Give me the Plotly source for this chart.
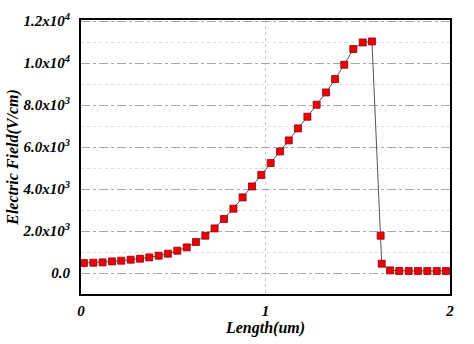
import plotly.graph_objects as go

length_um = [0.016, 0.067, 0.117, 0.168, 0.218, 0.269, 0.320, 0.370, 0.421, 0.471,
             0.522, 0.573, 0.623, 0.674, 0.724, 0.775, 0.826, 0.876, 0.927, 0.977,
             1.028, 1.079, 1.126, 1.176, 1.227, 1.277, 1.328, 1.377, 1.427, 1.476,
             1.527, 1.577, 1.624, 1.630, 1.675, 1.725, 1.776, 1.827, 1.877, 1.928, 1.978]
field = [476, 490, 505, 552, 586, 633, 681, 743, 824, 919,
         1062, 1219, 1476, 1776, 2124, 2571, 3062, 3600, 4124, 4667,
         5238, 5790, 6314, 6886, 7443, 8014, 8600, 9238, 9919, 10667,
         10981, 11029, 1776, 443, 124, 95, 95, 95, 95, 95, 95]

y_tickvals = [0, 2000, 4000, 6000, 8000, 10000, 12000]
y_ticktext = ["0.0", "2.0x10<sup>3</sup>", "4.0x10<sup>3</sup>", "6.0x10<sup>3</sup>",
              "8.0x10<sup>3</sup>", "1.0x10<sup>4</sup>", "1.2x10<sup>4</sup>"]
x_tickvals = [0, 1, 2]
x_ticktext = ["0", "1", "2"]

font_family = "Liberation Serif"

fig = go.Figure()
fig.add_trace(go.Scatter(
    x=length_um, y=field, mode="lines+markers",
    line=dict(color="#555555", width=1),
    marker=dict(symbol="square", size=7, color="#e8000b",
                line=dict(color="#9a0000", width=0.8)),
    showlegend=False,
))

fig.update_layout(
    width=474, height=344,
    margin=dict(l=81, r=24, t=20, b=50),
    plot_bgcolor="white", paper_bgcolor="white",
    font=dict(family=font_family, color="black"),
)
fig.update_xaxes(
    range=[0, 2], tickvals=x_tickvals, ticktext=x_ticktext,
    showline=True, mirror=True, linecolor="black", linewidth=2,
    showgrid=True, gridcolor="#c8c8c8", griddash="dot", gridwidth=1,
    zeroline=False, ticks="", ticklabelstandoff=2, automargin=False,
    tickfont=dict(family=font_family, size=15, weight="bold", style="italic"),
    title=dict(text="Length(um)", standoff=4,
               font=dict(family=font_family, size=16, weight="bold", style="italic")),
)
fig.update_yaxes(
    range=[-1000, 12050], tickvals=y_tickvals, ticktext=y_ticktext,
    showline=True, mirror=True, linecolor="black", linewidth=2,
    showgrid=True, gridcolor="#a8a8a8", griddash="dashdot", gridwidth=1,
    minor=dict(dtick=1000, tick0=1000, showgrid=True, gridcolor="#dddddd", griddash="dot"),
    zeroline=False, ticks="", ticklabelstandoff=6, automargin=False,
    tickfont=dict(family=font_family, size=15, weight="bold", style="italic"),
    title=dict(text="Electric Field(V/cm)", standoff=0,
               font=dict(family=font_family, size=16, weight="bold", style="italic")),
)

fig.write_html("out.html")
